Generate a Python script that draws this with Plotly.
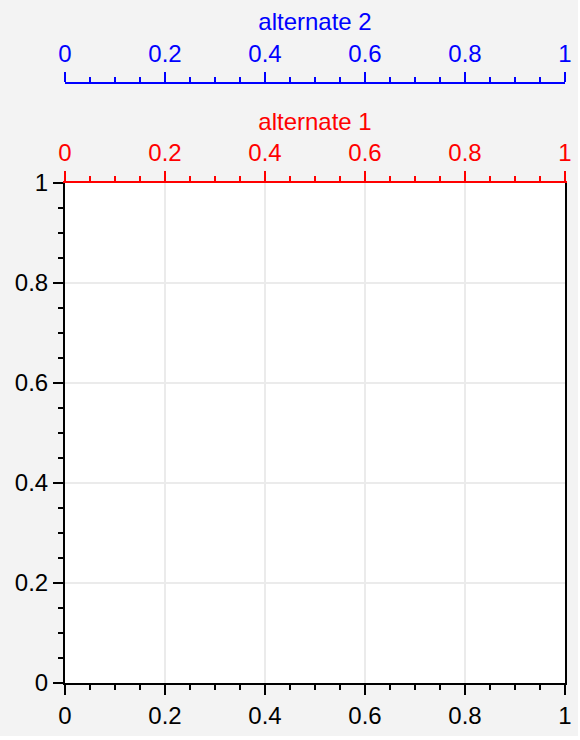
import plotly.graph_objects as go

# axis values
x_range = [0, 1]
y_range = [0, 1]
tick_vals = [0, 0.2, 0.4, 0.6, 0.8, 1]
tick_text = ['0', '0.2', '0.4', '0.6', '0.8', '1']
top_titles = ['alternate 1', 'alternate 2']
top_colors = ['#ff0000', '#0000ff']

FONT = 'Liberation Sans, Arial, sans-serif'


def axis_style(color, grid=False):
    return dict(
        range=x_range,
        tickmode='array',
        tickvals=tick_vals,
        ticktext=tick_text,
        ticks='outside',
        ticklen=10,
        tickwidth=2,
        tickcolor=color,
        showline=True,
        linewidth=2,
        linecolor=color,
        showgrid=grid,
        gridcolor='#ebebeb',
        gridwidth=2,
        zeroline=False,
        tickfont=dict(color=color, size=24, family=FONT),
        minor=dict(dtick=0.05, ticks='outside', ticklen=5, tickwidth=2,
                   tickcolor=color, showgrid=False),
    )


fig = go.Figure()

# empty traces so every axis gets drawn
fig.add_trace(go.Scatter(x=[], y=[], xaxis='x', yaxis='y', showlegend=False))
fig.add_trace(go.Scatter(x=[], y=[], xaxis='x2', yaxis='y', showlegend=False))
fig.add_trace(go.Scatter(x=[], y=[], xaxis='x3', yaxis='y', showlegend=False))

xaxis = axis_style('#000000', grid=True)
yaxis = axis_style('#000000', grid=True)
yaxis['range'] = y_range
yaxis['mirror'] = True
yaxis['domain'] = [0, 500 / 600]

xaxis2 = axis_style(top_colors[0])
xaxis2.update(overlaying='x', side='top', anchor='y',
              title=dict(text=top_titles[0], standoff=2,
                         font=dict(color=top_colors[0], size=24, family=FONT)))

xaxis3 = axis_style(top_colors[1])
xaxis3.update(overlaying='x', side='top', anchor='free', position=1,
              title=dict(text=top_titles[1], standoff=2,
                         font=dict(color=top_colors[1], size=24, family=FONT)))

fig.update_layout(
    width=578,
    height=736,
    margin=dict(l=65, r=13, t=83, b=53, autoexpand=False),
    paper_bgcolor='#f3f3f3',
    plot_bgcolor='#ffffff',
    font=dict(family=FONT, size=24, color='#000000'),
    xaxis=xaxis,
    yaxis=yaxis,
    xaxis2=xaxis2,
    xaxis3=xaxis3,
    showlegend=False,
)

fig.write_html("out.html", config={'displayModeBar': False},
               post_script="document.body.style.margin='0px';")
